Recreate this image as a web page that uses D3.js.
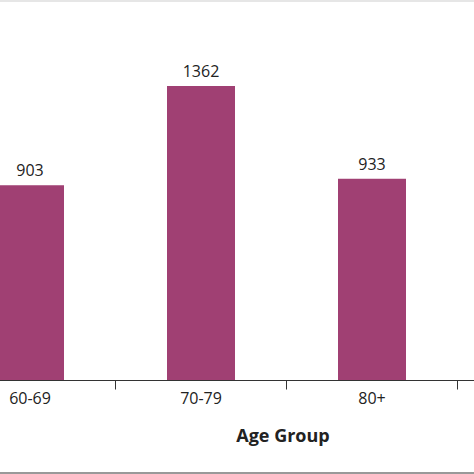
<!DOCTYPE html>
<html>
<head>
<meta charset="utf-8" />
<style>
  body { margin: 0; background: #fff; }
  text { font-family: "Open Sans", sans-serif; fill: #222; }
</style>
</head>
<body>
<div id="chart"></div>
<script src="https://cdn.jsdelivr.net/npm/d3@7"></script>
<script>
var groups = ["60-69", "70-79", "80+"];
var counts = [903, 1362, 933];

var width = 474, height = 474;
var svg = d3.select("#chart").append("svg")
    .attr("width", width).attr("height", height);

var x = d3.scaleBand().domain(groups).range([-55.5, 457.5]).paddingInner(0).paddingOuter(0);
var y = d3.scaleLinear().domain([0, 1362]).range([380.5, 86]);
var barW = 68;

// frame lines from the cropped figure
svg.append("rect").attr("x", 0).attr("y", 0).attr("width", width).attr("height", 2).attr("fill", "#e6e6e6");
svg.append("rect").attr("x", 0).attr("y", 472).attr("width", width).attr("height", 2).attr("fill", "#999");

svg.selectAll(".bar")
    .data(groups)
    .join("rect")
    .attr("class", "bar")
    .attr("x", d => x(d) + x.bandwidth() / 2 - barW / 2)
    .attr("y", (d, i) => y(counts[i]))
    .attr("width", barW)
    .attr("height", (d, i) => y(0) - y(counts[i]))
    .attr("fill", "#a04073");

svg.selectAll(".val")
    .data(groups)
    .join("text")
    .attr("class", "val")
    .attr("x", d => x(d) + x.bandwidth() / 2)
    .attr("y", (d, i) => y(counts[i]) - 9)
    .attr("text-anchor", "middle")
    .attr("font-size", 16)
    .text((d, i) => counts[i]);

// axis
svg.append("line").attr("x1", 0).attr("x2", width)
    .attr("y1", y(0)).attr("y2", y(0)).attr("stroke", "#333").attr("stroke-width", 1);
var tickPos = groups.map(d => x(d)).concat([x.range()[1]]);
svg.selectAll(".tick")
    .data(tickPos)
    .join("line")
    .attr("x1", d => d).attr("x2", d => d)
    .attr("y1", y(0)).attr("y2", y(0) + 9)
    .attr("stroke", "#333");
svg.selectAll(".lab")
    .data(groups)
    .join("text")
    .attr("x", d => x(d) + x.bandwidth() / 2)
    .attr("y", 404)
    .attr("text-anchor", "middle")
    .attr("font-size", 16)
    .text(d => d);

svg.append("text")
    .attr("x", 283).attr("y", 442)
    .attr("text-anchor", "middle")
    .attr("font-size", 18).attr("font-weight", "bold")
    .text("Age Group");
</script>
</body>
</html>
